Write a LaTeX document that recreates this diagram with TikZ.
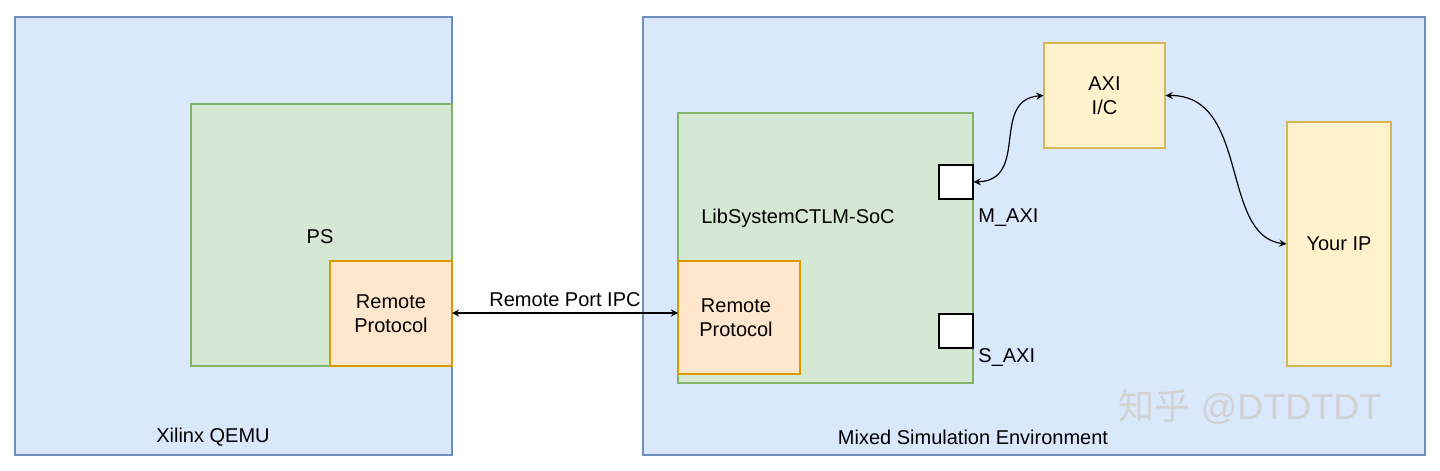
\documentclass[tikz,border=0pt]{standalone}
\usepackage{fontspec}
\setmainfont{Liberation Sans}
\newfontfamily\cjk{Noto Sans CJK SC}
\definecolor{bfill}{HTML}{DAE8FC}\definecolor{bdraw}{HTML}{6C8EBF}
\definecolor{gfill}{HTML}{D5E8D4}\definecolor{gdraw}{HTML}{82B366}
\definecolor{ofill}{HTML}{FFE6CC}\definecolor{odraw}{HTML}{D79B00}
\definecolor{yfill}{HTML}{FFF2CC}\definecolor{ydraw}{HTML}{D6B656}
\begin{document}
\begin{tikzpicture}[x=0.5pt,y=-0.5pt,font=\fontsize{10}{12}\selectfont,
 box/.style={draw=#1draw,fill=#1fill,line width=0.6pt},
 lbl/.style={inner sep=0pt,align=center},
 arr/.style={<->,>=stealth,line width=0.6pt}]
\useasboundingbox (0,0) rectangle (1440,471);
\fill[white] (0,0) rectangle (1440,471);
\draw[box=b] (15,17) rectangle (452,455);
\draw[box=g] (191,104) rectangle (452,366);
\draw[box=o] (330,261) rectangle (452,366);
\node[lbl] at (391,313.5) {Remote\\Protocol};
\node[lbl] at (320,237) {PS};
\node[lbl] at (213,437) {Xilinx QEMU};
\draw[box=b] (643,17) rectangle (1425,455);
\draw[box=g] (678,113) rectangle (973,383);
\draw[box=o] (678,261) rectangle (800,374);
\node[lbl] at (736,318) {Remote\\Protocol};
\node[lbl] at (798,218) {LibSystemCTLM-SoC};
\node[lbl] at (973,437) {Mixed Simulation Environment};
\node[draw=black,fill=white,line width=0.6pt,minimum size=17pt,inner sep=0pt] (m) at (956,182) {};
\node[draw=black,fill=white,line width=0.6pt,minimum size=17pt,inner sep=0pt] (s) at (956,331) {};
\node[lbl,anchor=west] at (978,218) {M\_AXI};
\node[lbl,anchor=west] at (978,357) {S\_AXI};
\node[box=y,minimum width=60.5pt,minimum height=52.5pt,lbl] (axi) at (1104.5,95.5) {AXI\\I/C};
\node[box=y,minimum width=52pt,minimum height=122pt,lbl] (ip) at (1339,244) {Your IP};
\coordinate (l1) at (452,313); \coordinate (r1) at (678,313);
\draw[arr] (l1) -- node[above=3pt,inner sep=0pt]{Remote Port IPC} (r1);
\draw[arr] (m.east) .. controls (1030,180) and (990,100) .. (axi.west);
\draw[arr] (axi.east) .. controls (1250,95) and (1220,236) .. (ip.west);
\node[lbl,text=gray!35,font=\fontsize{18}{20}\selectfont] at (1250,407) {{\cjk 知乎} @DTDTDT};
\end{tikzpicture}
\end{document}
